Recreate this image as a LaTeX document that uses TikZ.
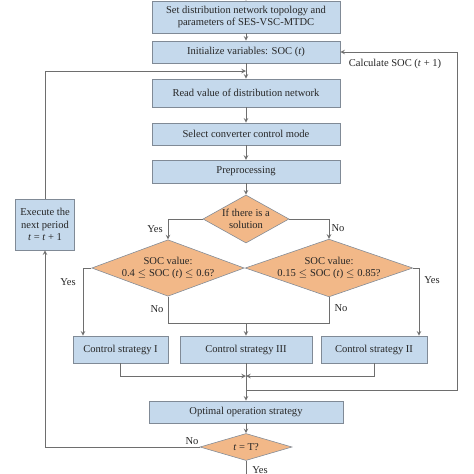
\documentclass[tikz,border=0pt]{standalone}
\usepackage{fontspec}
\setmainfont{Liberation Serif}
\usetikzlibrary{shapes.geometric}
\definecolor{boxblue}{RGB}{197,217,236}
\definecolor{diaorange}{RGB}{242,184,136}
\definecolor{edgegray}{RGB}{128,138,150}
\definecolor{linegray}{RGB}{110,110,110}
\begin{document}
\begin{tikzpicture}[
        font=\fontsize{7.5}{9}\selectfont,
        process/.style={rectangle, draw=edgegray, fill=boxblue, minimum height=0.55cm, align=center, text=black!85},
        decision/.style={diamond, draw=edgegray, fill=diaorange, inner sep=0pt, align=center, text=black!85},
        arrow/.style={->, linegray, >=stealth, line width=0.5pt},
        line/.style={linegray, line width=0.5pt},
        lbl/.style={text=black!85}
    ]
        \useasboundingbox[fill=white] (0,0) rectangle (11.85,-11.85);

        % Hauptspalte
        \coordinate (top) at (6.15, 0);
        \node[process, minimum width=4.7cm, minimum height=0.7cm] (setnet) at (6.15, -0.425) {Set distribution network topology and\\parameters of SES-VSC-MTDC};
        \node[process, minimum width=4.7cm] (init) at (6.15, -1.3) {Initialize variables: SOC (\textit{t})};
        \node[process, minimum width=4.7cm, minimum height=0.7cm] (read) at (6.15, -2.325) {Read value of distribution network};
        \node[process, minimum width=4.7cm] (select) at (6.15, -3.35) {Select converter control mode};
        \node[process, minimum width=4.7cm, minimum height=0.57cm] (prep) at (6.15, -4.29) {Preprocessing};

        % Entscheidungen
        \node[decision, minimum width=2.15cm, minimum height=1.2cm, aspect=1.8] (sol) at (6.15, -5.475) {If there is a\\solution};
        \node[decision, minimum width=3.8cm, minimum height=1.4cm, aspect=2.7] (socA) at (4.2, -6.7) {SOC value:\\0.4 $\leq$ SOC (\textit{t}) $\leq$ 0.6?};
        \node[decision, minimum width=4.05cm, minimum height=1.4cm, aspect=2.9] (socB) at (8.225, -6.7) {SOC value:\\0.15 $\leq$ SOC (\textit{t}) $\leq$ 0.85?};

        % Strategien
        \node[process, minimum width=2.375cm, minimum height=0.675cm] (csI) at (3.0125, -8.7375) {Control strategy I};
        \node[process, minimum width=3.3cm, minimum height=0.675cm] (csIII) at (6.15, -8.7375) {Control strategy III};
        \node[process, minimum width=2.65cm, minimum height=0.675cm] (csII) at (9.35, -8.7375) {Control strategy II};

        \node[process, minimum width=4.85cm] (optim) at (6.15, -10.3) {Optimal operation strategy};
        \node[decision, minimum width=2.3cm, minimum height=0.675cm, aspect=3.4] (tend) at (6.15, -11.175) {\textit{t} = T?};
        \coordinate (bottom) at (6.15, -11.85);

        \node[process, minimum width=1.4cm, minimum height=1.275cm] (exec) at (1.125, -5.6125) {Execute the\\next period\\\textit{t} = \textit{t} + 1};

        % Hilfspunkte
        \coordinate (merge) at (6.15, -1.775);
        \coordinate (join) at (6.15, -9.4);
        \coordinate (noJoin) at (6.15, -8.075);
        \coordinate (loop) at (6.15, -9.75);
        \coordinate (yesA) at (2.075, -6.7);
        \coordinate (yesB) at (10.475, -6.7);

        % Verbindungen
        \draw[arrow] (top) -- (setnet);
        \draw[arrow] (setnet) -- (init);
        \draw[line] (init) -- (merge);
        \draw[arrow] (merge) -- (read);
        \draw[arrow] (read) -- (select);
        \draw[arrow] (select) -- (prep);
        \draw[arrow] (prep) -- (sol);

        \draw[arrow] (sol.west) -| (socA.north);
        \draw[arrow] (sol.east) -| (socB.north);

        \draw[arrow] (socA.west) -- (yesA) -- (yesA |- csI.north);
        \draw[arrow] (socB.east) -- (yesB) -- (yesB |- csII.north);
        \draw[line] (socA.south) |- (noJoin);
        \draw[line] (socB.south) |- (noJoin);
        \draw[arrow] (noJoin) -- (csIII);

        \draw[arrow] (csI.south) |- (join);
        \draw[arrow] (csII.south) |- (join);
        \draw[line] (csIII) -- (loop);
        \draw[arrow] (loop) -- (optim);
        \draw[arrow] (optim) -- (tend);
        \draw[line] (tend) -- (bottom);

        % Rueckfuehrungen
        \draw[arrow] (loop) -| (11.425, -1.3) -- (init.east);
        \draw[arrow] (tend.west) -| (exec.south);
        \draw[arrow] (exec.north) |- (merge);

        % Beschriftungen
        \node[lbl] (lyes1) at (3.875, -5.725) {Yes};
        \node[lbl] (lno1) at (8.45, -5.7) {No};
        \node[lbl] (lyes2) at (1.7, -7.05) {Yes};
        \node[lbl] (lno2) at (3.925, -7.725) {No};
        \node[lbl] (lno3) at (8.525, -7.7) {No};
        \node[lbl] (lyes3) at (10.8, -7.0) {Yes};
        \node[lbl] (lcalc) at (9.875, -1.6) {Calculate SOC (\textit{t} + 1)};
        \node[lbl] (lno4) at (4.8, -11.02) {No};
        \node[lbl, anchor=north west, inner sep=0pt] (lyes4) at (6.3, -11.65) {Yes};
\end{tikzpicture}
\end{document}
